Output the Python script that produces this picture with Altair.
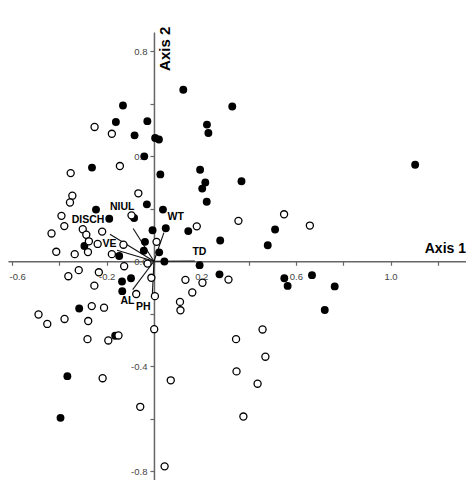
import altair as alt
import pandas as pd

# sites, filled symbols (axis 1 / axis 2 scores)
filled_x = [0.124, -0.131, -0.161, -0.028, -0.082, 0.005, 0.021, -0.041, -0.262, 0.027,
            -0.030, -0.245, 0.038, -0.189, -0.084, -0.006, 0.050, 0.145, 0.280, -0.038,
            0.331, 0.224, 0.230, 0.195, 0.217, 0.204, 0.223, -0.294, 1.104, 0.370,
            0.512, 0.481, -0.147, -0.043, 0.022, 0.044, 0.193, 0.277, -0.097, -0.135,
            -0.134, 0.551, 0.565, 0.668, 0.764, 0.722, -0.316, -0.164, -0.366, -0.395]
filled_y = [0.654, 0.594, 0.531, 0.534, 0.480, 0.470, 0.464, 0.400, 0.357, 0.331,
            0.217, 0.197, 0.197, 0.162, 0.165, 0.118, 0.126, 0.115, 0.079, 0.074,
            0.590, 0.521, 0.489, 0.349, 0.300, 0.277, 0.227, 0.058, 0.368, 0.305,
            0.121, 0.061, 0.020, 0.040, 0.034, -0.001, -0.015, -0.050, -0.065, -0.077,
            -0.114, -0.065, -0.094, -0.053, -0.096, -0.186, -0.180, -0.284, -0.438, -0.597]

# sites, open symbols
open_x = [-0.251, -0.178, -0.144, -0.352, -0.345, -0.355, -0.066, -0.391, -0.379, -0.433,
          -0.301, -0.286, -0.275, -0.238, -0.219, -0.095, 0.181, -0.129, 0.011, 0.357,
          0.550, 0.659, -0.413, -0.335, -0.279, -0.178, -0.126, -0.027, -0.362, -0.318,
          -0.233, -0.252, -0.075, -0.011, 0.004, 0.133, 0.205, 0.315, 0.162, 0.110,
          0.112, -0.263, -0.211, -0.488, -0.451, -0.378, -0.278, 0.001, -0.150, -0.281,
          -0.193, -0.217, 0.071, -0.058, 0.045, 0.347, 0.459, 0.471, 0.349, 0.438, 0.378]
open_y = [0.512, 0.486, 0.363, 0.336, 0.250, 0.224, 0.259, 0.173, 0.134, 0.106,
          0.122, 0.101, 0.076, 0.066, 0.113, 0.175, 0.133, 0.063, 0.074, 0.154,
          0.179, 0.136, 0.036, 0.027, 0.035, 0.027, -0.019, -0.009, -0.057, -0.034,
          -0.042, -0.093, -0.125, -0.063, -0.133, -0.071, -0.082, -0.070, -0.119, -0.155,
          -0.187, -0.171, -0.177, -0.203, -0.239, -0.220, -0.228, -0.259, -0.283, -0.297,
          -0.302, -0.446, -0.454, -0.555, -0.782, -0.297, -0.260, -0.364, -0.420, -0.467, -0.592]

# environmental vectors
vec_names = ['DISCH', 'NIUL', 'VE', 'WT', 'TD', 'AL', 'PH']
vec_x = [-0.186, -0.088, -0.156, 0.042, 0.173, -0.090, -0.007]
vec_y = [0.103, 0.125, 0.042, 0.109, 0.001, -0.108, -0.130]
lab_x = [-0.279, -0.134, -0.188, 0.092, 0.192, -0.112, -0.045]
lab_y = [0.157, 0.205, 0.067, 0.167, 0.034, -0.152, -0.174]

x_ticks = [-0.6, -0.4, -0.2, 0.0, 0.2, 0.4, 0.6, 0.8, 1.0, 1.2]
y_ticks = [-0.8, -0.6, -0.4, -0.2, 0.0, 0.2, 0.4, 0.6, 0.8]

x_min, x_max = -0.617, 1.319
y_min, y_max = -0.834, 0.874
W, H = 458, 448

FONT = 'Liberation Sans'

# axes cross at the origin
x0_px = W * (0 - x_min) / (x_max - x_min)
y0_px = H * (y_max - 0) / (y_max - y_min)

xs = alt.Scale(domain=[x_min, x_max], nice=False, zero=False)
ys = alt.Scale(domain=[y_min, y_max], nice=False, zero=False)

x_axis = alt.Axis(
    title=None, values=x_ticks, format='.1f', offset=-(H - y0_px),
    labelExpr="abs(round(datum.value*10)) % 4 == 2 ? replace(datum.label, '\u2212', '-') : ''",
    grid=False, domainColor='#666', domainWidth=1.5, tickColor='#666', tickWidth=1.2,
    tickSize=4, labelPadding=6, labelFont=FONT, labelFontSize=9.5, labelColor='#444',
    labelOverlap=False, labelFlush=6, labelFlushOffset=3,
)
y_axis = alt.Axis(
    title=None, values=y_ticks, format='.1f', offset=-x0_px,
    labelExpr="abs(round(datum.value*10)) % 4 == 0 ? replace(datum.label, '\u2212', '-') : ''",
    grid=False, domainColor='#666', domainWidth=1.5, tickColor='#666', tickWidth=1.2,
    tickSize=4, labelPadding=3, labelFont=FONT, labelFontSize=9.5, labelColor='#444',
    labelOverlap=False, labelFlush=False,
)

filled = pd.DataFrame({'x': filled_x, 'y': filled_y})
opened = pd.DataFrame({'x': open_x, 'y': open_y})
vecs = pd.DataFrame({'name': vec_names, 'ox': 0.0, 'oy': 0.0,
                     'vx': vec_x, 'vy': vec_y, 'lx': lab_x, 'ly': lab_y})


def xy(xf, yf):
    return dict(x=alt.X(xf, type='quantitative', scale=xs, axis=x_axis),
                y=alt.Y(yf, type='quantitative', scale=ys, axis=y_axis))


arrows = alt.Chart(vecs).mark_rule(color='#111', strokeWidth=1.1).encode(
    **xy('ox', 'oy'), x2='vx:Q', y2='vy:Q'
)

dots = alt.Chart(filled).mark_point(
    shape='circle', filled=True, color='black', size=62, opacity=1
).encode(**xy('x', 'y'))

rings = alt.Chart(opened).mark_point(
    shape='circle', filled=True, fill='white', stroke='black', strokeWidth=1.3,
    size=50, opacity=1
).encode(**xy('x', 'y'))

names = alt.Chart(vecs).mark_text(
    font=FONT, fontSize=10.5, fontWeight='bold', color='black',
    align='center', baseline='middle'
).encode(**xy('lx', 'ly'), text='name:N')

titles = pd.DataFrame({'t': ['Axis 1'], 'x': [x_max], 'y': [0.0]})
axis1 = alt.Chart(titles).mark_text(
    font=FONT, fontSize=14, fontWeight='bold', color='black',
    align='right', baseline='alphabetic', dy=-8
).encode(**xy('x', 'y'), text='t:N')

titles2 = pd.DataFrame({'t': ['Axis 2'], 'x': [0.047], 'y': [0.81]})
axis2 = alt.Chart(titles2).mark_text(
    font=FONT, fontSize=15, fontWeight='bold', color='black',
    align='center', baseline='middle', angle=270
).encode(**xy('x', 'y'), text='t:N')

chart = alt.layer(arrows, dots, rings, names, axis1, axis2).properties(
    width=W, height=H,
    autosize=alt.AutoSizeParams(type='none'),
    padding={'left': 0, 'top': 24, 'right': 0, 'bottom': 0},
).configure_view(strokeWidth=0)

chart.save('out.html', embed_options={'renderer': 'svg', 'actions': False})
